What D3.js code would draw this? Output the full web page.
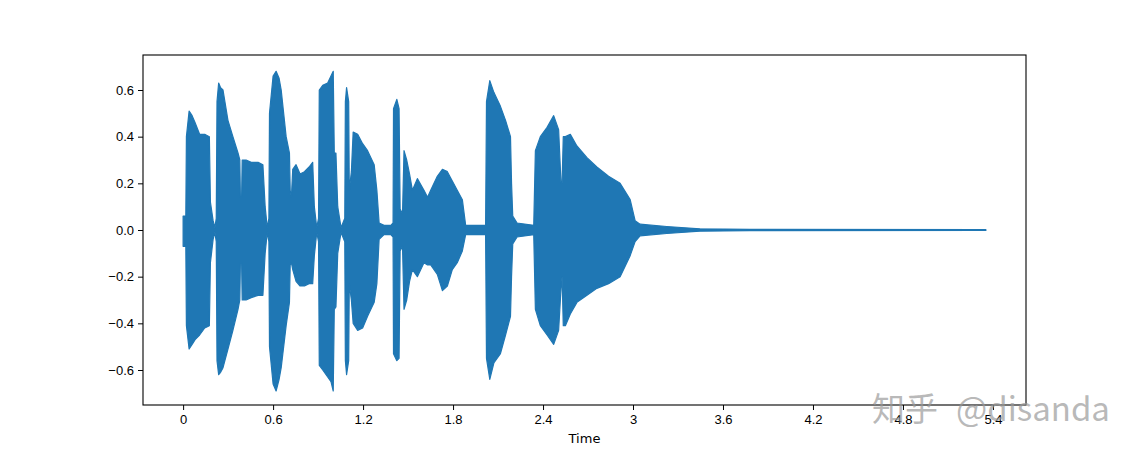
<!DOCTYPE html>
<html lang="en">
<head>
<meta charset="UTF-8">
<title>Waveform</title>
<script src="https://d3js.org/d3.v7.min.js"></script>
<style>
    body { margin: 0; background: #fff; }
    svg { font-family: "DejaVu Sans", sans-serif; }
    .tick text { font-size: 13px; fill: #000; }
</style>
</head>
<body>
<div id="chart"></div>
<script>
// envelope of the waveform: time (s), upper and lower amplitude
const times = [
    0.000, 0.018, 0.022, 0.040, 0.060, 0.080, 0.110, 0.144, 0.175, 0.182, 0.200, 0.212,
    0.221, 0.226, 0.237, 0.250, 0.266, 0.299, 0.332, 0.366, 0.378, 0.382, 0.390, 0.394,
    0.420, 0.454, 0.500, 0.532, 0.547, 0.561, 0.572, 0.576, 0.600, 0.620, 0.640, 0.654,
    0.687, 0.709, 0.714, 0.722, 0.731, 0.753, 0.780, 0.809, 0.840, 0.864, 0.875, 0.891,
    0.903, 0.908, 0.931, 0.964, 0.986, 1.001, 1.008, 1.019, 1.031, 1.053, 1.078, 1.082,
    1.090, 1.104, 1.108, 1.122, 1.134, 1.164, 1.197, 1.230, 1.274, 1.292, 1.307, 1.340,
    1.385, 1.400, 1.403, 1.425, 1.440, 1.447, 1.463, 1.473, 1.491, 1.510, 1.529, 1.562,
    1.606, 1.630, 1.651, 1.695, 1.729, 1.762, 1.795, 1.828, 1.862, 1.884, 1.983, 2.017,
    2.023, 2.045, 2.072, 2.116, 2.150, 2.183, 2.190, 2.198, 2.227, 2.338, 2.349, 2.382,
    2.427, 2.471, 2.504, 2.520, 2.527, 2.535, 2.549, 2.582, 2.626, 2.693, 2.759, 2.837,
    2.914, 2.981, 3.014, 3.047, 3.225, 3.446, 3.779, 5.353
];
const upper = [
    0.06, 0.06, 0.40, 0.51, 0.49, 0.46, 0.41, 0.41, 0.40, 0.12, 0.04, 0.01,
    0.05, 0.55, 0.63, 0.61, 0.60, 0.47, 0.40, 0.33, 0.30, 0.14, 0.14, 0.30,
    0.30, 0.29, 0.29, 0.28, 0.10, 0.01, 0.05, 0.50, 0.66, 0.68, 0.65, 0.60,
    0.40, 0.33, 0.17, 0.14, 0.26, 0.28, 0.24, 0.25, 0.27, 0.29, 0.10, 0.01,
    0.05, 0.60, 0.62, 0.63, 0.66, 0.68, 0.33, 0.33, 0.10, 0.01, 0.05, 0.55,
    0.61, 0.55, 0.17, 0.25, 0.42, 0.41, 0.37, 0.34, 0.28, 0.17, 0.03, 0.02,
    0.02, 0.03, 0.52, 0.56, 0.52, 0.09, 0.07, 0.34, 0.30, 0.24, 0.17, 0.22,
    0.17, 0.14, 0.17, 0.23, 0.26, 0.25, 0.21, 0.17, 0.13, 0.02, 0.02, 0.02,
    0.55, 0.64, 0.59, 0.53, 0.47, 0.40, 0.20, 0.06, 0.03, 0.02, 0.34, 0.40,
    0.44, 0.49, 0.43, 0.20, 0.20, 0.40, 0.40, 0.41, 0.36, 0.31, 0.27, 0.23,
    0.20, 0.13, 0.04, 0.025, 0.015, 0.005, 0.003, 0.002
];
const lower = [
    -0.07, -0.07, -0.41, -0.51, -0.49, -0.47, -0.45, -0.42, -0.41, -0.14, -0.04, -0.01,
    -0.05, -0.56, -0.62, -0.61, -0.59, -0.51, -0.43, -0.34, -0.30, -0.14, -0.14, -0.30,
    -0.30, -0.29, -0.28, -0.28, -0.10, -0.01, -0.05, -0.50, -0.66, -0.69, -0.64, -0.59,
    -0.41, -0.31, -0.15, -0.14, -0.17, -0.22, -0.24, -0.24, -0.23, -0.23, -0.11, -0.01,
    -0.05, -0.58, -0.60, -0.63, -0.65, -0.69, -0.34, -0.33, -0.10, -0.01, -0.05, -0.56,
    -0.62, -0.56, -0.23, -0.30, -0.40, -0.43, -0.42, -0.37, -0.31, -0.23, -0.04, -0.02,
    -0.02, -0.03, -0.53, -0.56, -0.55, -0.09, -0.07, -0.34, -0.30, -0.22, -0.17, -0.20,
    -0.14, -0.15, -0.15, -0.19, -0.26, -0.24, -0.17, -0.14, -0.09, -0.02, -0.02, -0.02,
    -0.55, -0.64, -0.57, -0.53, -0.45, -0.37, -0.20, -0.06, -0.03, -0.02, -0.34, -0.41,
    -0.45, -0.49, -0.43, -0.25, -0.20, -0.41, -0.41, -0.36, -0.31, -0.28, -0.25, -0.23,
    -0.20, -0.11, -0.05, -0.025, -0.015, -0.005, -0.003, -0.002
];
const xTicks = [0, 0.6, 1.2, 1.8, 2.4, 3, 3.6, 4.2, 4.8, 5.4];
const yTicks = [-0.6, -0.4, -0.2, 0.0, 0.2, 0.4, 0.6];

const width = 1140;
const height = 456;
const margin = { top: 55, right: 114, bottom: 51, left: 143 };

const svg = d3.select("#chart")
    .append("svg")
    .attr("width", width)
    .attr("height", height);

const x = d3.scaleLinear()
    .domain([-0.2675, 5.6205])
    .range([margin.left, width - margin.right]);

const y = d3.scaleLinear()
    .domain([-0.75, 0.75])
    .range([height - margin.bottom, margin.top]);

const wave = times.map((t, i) => ({ t: t, hi: upper[i], lo: lower[i] }));

const area = d3.area()
    .x(d => x(d.t))
    .y0(d => y(d.lo))
    .y1(d => y(d.hi));

svg.append("path")
    .datum(wave)
    .attr("d", area)
    .attr("fill", "#1f77b4")
    .attr("stroke", "#1f77b4")
    .attr("stroke-width", 1.2)
    .attr("stroke-linejoin", "round");

// axes, matplotlib style
const fmtY = d => d3.format(".1f")(d).replace("-", "\u2212");
const fmtX = d => d === 0 ? "0" : d3.format("")(d);

svg.append("g")
    .attr("transform", `translate(0,${height - margin.bottom})`)
    .call(d3.axisBottom(x).tickValues(xTicks).tickFormat(fmtX).tickSize(5).tickPadding(5))
    .call(g => g.select(".domain").remove());

svg.append("g")
    .attr("transform", `translate(${margin.left},0)`)
    .call(d3.axisLeft(y).tickValues(yTicks).tickFormat(fmtY).tickSize(5).tickPadding(4))
    .call(g => g.select(".domain").remove());

svg.selectAll(".tick line").attr("stroke", "#000").attr("stroke-width", 1);

// frame
svg.append("rect")
    .attr("x", margin.left)
    .attr("y", margin.top)
    .attr("width", width - margin.right - margin.left)
    .attr("height", height - margin.bottom - margin.top)
    .attr("fill", "none")
    .attr("stroke", "#000")
    .attr("stroke-width", 1.1);

svg.append("text")
    .attr("x", (margin.left + width - margin.right) / 2)
    .attr("y", 443)
    .attr("text-anchor", "middle")
    .style("font-size", "13px")
    .text("Time");

// watermark over the lower right corner, as in the source image
const mark = svg.append("g")
    .style("font-family", "'Noto Sans CJK SC', sans-serif")
    .style("font-size", "33px")
    .attr("fill", "#9a9a9a")
    .attr("fill-opacity", 0.7);
mark.append("text").attr("x", 872).attr("y", 421).text("知乎");
mark.append("text").attr("x", 956).attr("y", 421).text("@disanda");
</script>
</body>
</html>
